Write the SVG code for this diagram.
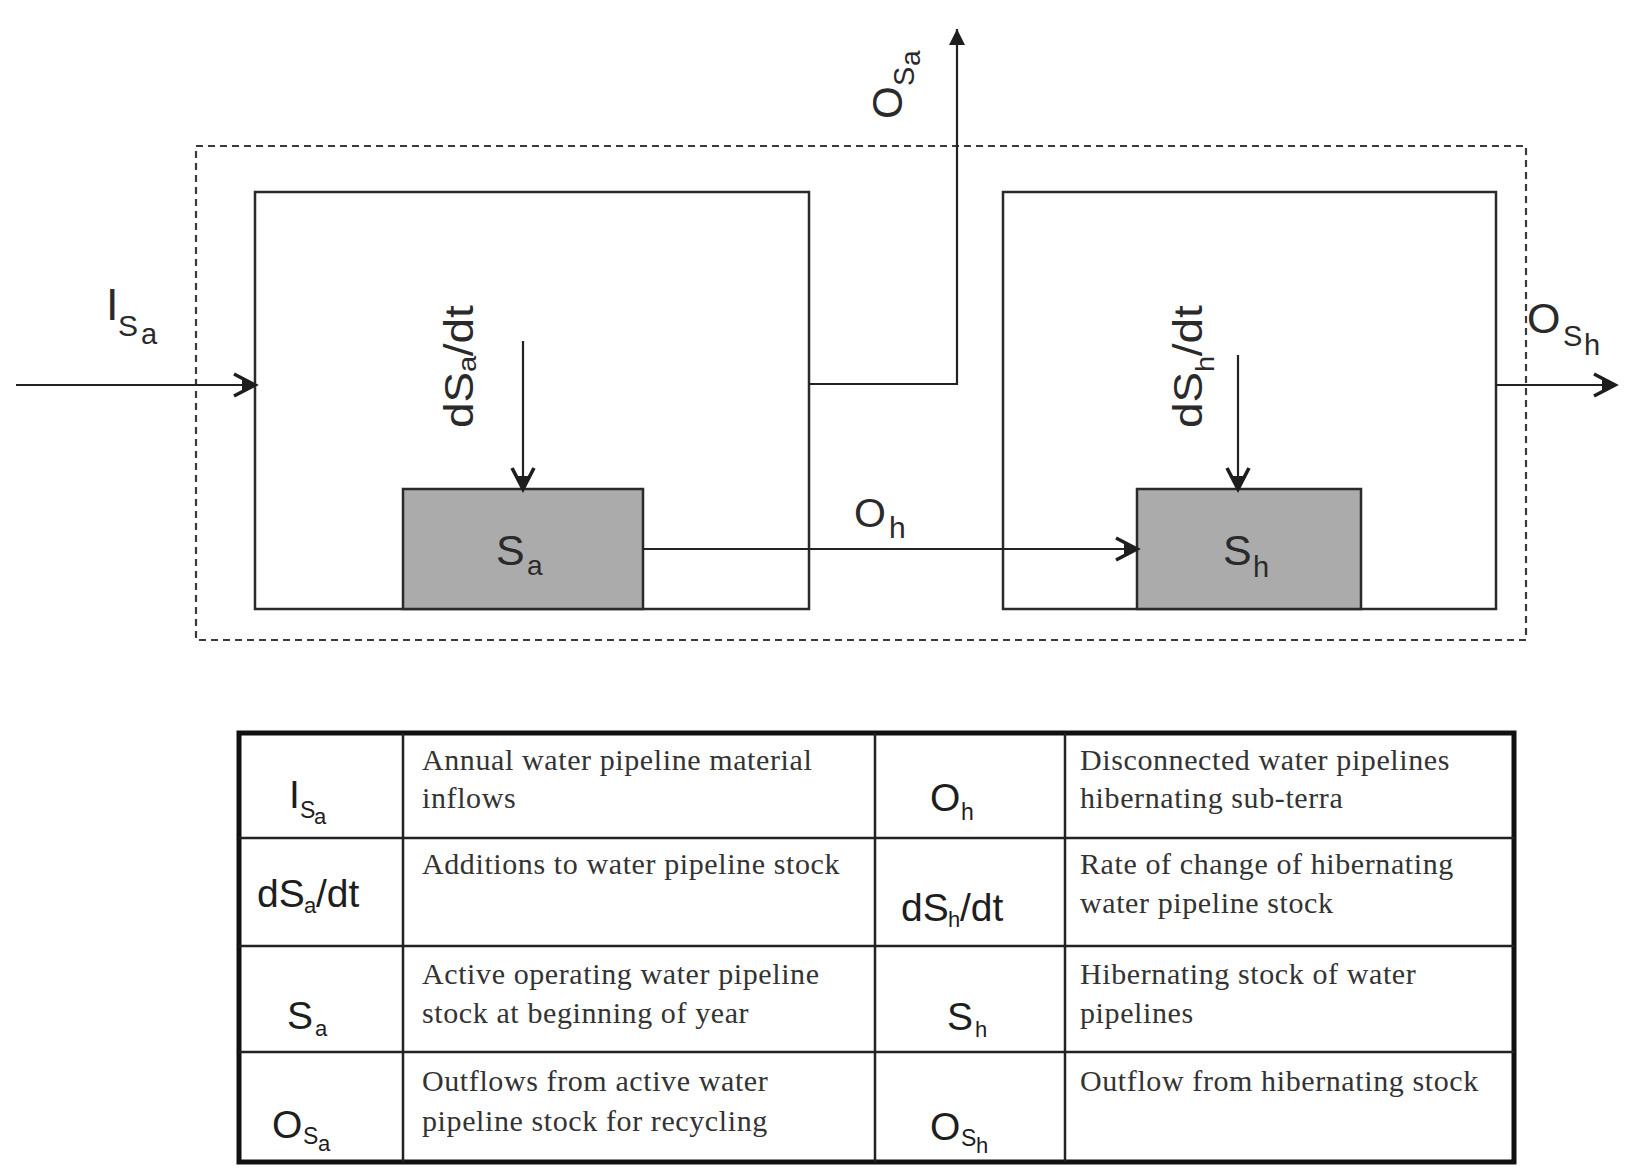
<svg xmlns="http://www.w3.org/2000/svg" width="1638" height="1169" viewBox="0 0 1638 1169">
<style>
.bg{fill:#ffffff}
.box{fill:#ffffff;stroke:#2a2a2a;stroke-width:2.5}
.stock{fill:#ababab;stroke:#2a2a2a;stroke-width:2.5}
.dash{fill:none;stroke:#3a3a3a;stroke-width:2.2;stroke-dasharray:7 5}
.conn{fill:none;stroke:#222;stroke-width:2.2}
.lbl{font-family:"Liberation Sans",Arial,sans-serif;fill:#2a2a2a}
.ser{font-family:"Liberation Serif","Times New Roman",serif;fill:#333;font-size:30px;letter-spacing:0.6px}
.sym{font-family:"Liberation Sans",Arial,sans-serif;fill:#1e1e1e}
.tout{fill:none;stroke:#111;stroke-width:5}
.tin{fill:none;stroke:#222;stroke-width:2.5}
</style>
<defs>
<marker id="chev" markerUnits="userSpaceOnUse" viewBox="-28 -16 32 32" markerWidth="32" markerHeight="32" refX="0" refY="0" orient="auto">
<path d="M-21,-11 L0,0 L-21,11" fill="none" stroke="#1e1e1e" stroke-width="3.6"/>
<path d="M-13,-6 L0,0 L-13,6 Z" fill="#1e1e1e"/>
</marker>
<marker id="tri" markerUnits="userSpaceOnUse" viewBox="-20 -10 22 20" markerWidth="22" markerHeight="20" refX="0" refY="0" orient="auto">
<path d="M-16,-8 L0,0 L-16,8 Z" fill="#1e1e1e"/>
</marker>
</defs>
<rect class="bg" x="0" y="0" width="1638" height="1169"/>

<g id="system-boundary">
<rect class="dash" x="196" y="146" width="1330" height="494"/>
</g>

<g id="active-box">
<rect class="box" x="255" y="192" width="554" height="417"/>
</g>
<g id="hibernating-box">
<rect class="box" x="1003" y="192" width="493" height="417"/>
</g>
<g id="node-Sa">
<rect class="stock" x="403" y="489" width="240" height="120"/>
<text class="lbl" font-size="43" x="496" y="565">S</text>
<text class="lbl" font-size="28" x="527" y="575">a</text>
</g>
<g id="node-Sh">
<rect class="stock" x="1137" y="489" width="224" height="120"/>
<text class="lbl" font-size="43" x="1223" y="565">S</text>
<text class="lbl" font-size="29" x="1253" y="577">h</text>
</g>

<g id="connectors">
<line class="conn" x1="16" y1="385" x2="255" y2="385" marker-end="url(#chev)"/>
<polyline class="conn" points="809,384 957,384 957,29" marker-end="url(#tri)"/>
<line class="conn" x1="1496" y1="385" x2="1615" y2="385" marker-end="url(#chev)"/>
<line class="conn" x1="523" y1="341" x2="523" y2="489" marker-end="url(#chev)"/>
<line class="conn" x1="1238" y1="355" x2="1238" y2="489" marker-end="url(#chev)"/>
<line class="conn" x1="643" y1="549" x2="1137" y2="549" marker-end="url(#chev)"/>
</g>

<g id="label-ISa">
<text class="lbl" font-size="45" x="106" y="320">I</text>
<text class="lbl" font-size="30" x="118" y="336">S</text>
<text class="lbl" font-size="29" x="141" y="344">a</text>
</g>
<g id="label-OSa" transform="translate(902,119) rotate(-90)">
<text class="lbl" font-size="42" x="0" y="0">O</text>
<text class="lbl" font-size="29" x="33" y="12">S</text>
<text class="lbl" font-size="28" x="53" y="18">a</text>
</g>
<g id="label-OSh">
<text class="lbl" font-size="43" x="1527" y="333">O</text>
<text class="lbl" font-size="29" x="1563" y="346">S</text>
<text class="lbl" font-size="29" x="1584" y="355">h</text>
</g>
<g id="label-Oh">
<text class="lbl" font-size="41" x="854" y="527">O</text>
<text class="lbl" font-size="30" x="889" y="538">h</text>
</g>
<g id="label-dSa" transform="translate(473,428) rotate(-90) scale(1.12,1)">
<text class="lbl" font-size="41" x="0" y="0">dS</text>
<text class="lbl" font-size="26" x="50" y="3">a</text>
<text class="lbl" font-size="41" x="64" y="0">/dt</text>
</g>
<g id="label-dSh" transform="translate(1202,428) rotate(-90) scale(1.12,1)">
<text class="lbl" font-size="41" x="0" y="0">dS</text>
<text class="lbl" font-size="26" x="50" y="12">h</text>
<text class="lbl" font-size="41" x="64" y="0">/dt</text>
</g>

<g id="legend-table">
<rect class="tout" x="239" y="733" width="1275" height="429"/>
<line class="tin" x1="403" y1="733" x2="403" y2="1162"/>
<line class="tin" x1="875" y1="733" x2="875" y2="1162"/>
<line class="tin" x1="1065" y1="733" x2="1065" y2="1162"/>
<line class="tin" x1="239" y1="838" x2="1514" y2="838"/>
<line class="tin" x1="239" y1="946" x2="1514" y2="946"/>
<line class="tin" x1="239" y1="1052" x2="1514" y2="1052"/>

<g id="row1-left">
<text class="sym" font-size="39" x="289" y="808">I</text>
<text class="sym" font-size="23" x="300" y="818">S</text>
<text class="sym" font-size="22" x="314" y="824">a</text>
<text class="ser" x="422" y="770">Annual water pipeline  material</text>
<text class="ser" x="422" y="808">inflows</text>
</g>
<g id="row1-right">
<text class="sym" font-size="39" x="930" y="811">O</text>
<text class="sym" font-size="23" x="961" y="820">h</text>
<text class="ser" x="1080" y="770">Disconnected water pipelines</text>
<text class="ser" x="1080" y="808">hibernating sub-terra</text>
</g>
<g id="row2-left">
<text class="sym" font-size="39" x="257" y="907">dS</text>
<text class="sym" font-size="22" x="304" y="913">a</text>
<text class="sym" font-size="39" x="316" y="907">/dt</text>
<text class="ser" x="422" y="874">Additions to water pipeline  stock</text>
</g>
<g id="row2-right">
<text class="sym" font-size="39" x="901" y="921">dS</text>
<text class="sym" font-size="22" x="948" y="927">h</text>
<text class="sym" font-size="39" x="960" y="921">/dt</text>
<text class="ser" x="1080" y="874">Rate of change of hibernating</text>
<text class="ser" x="1080" y="913">water pipeline  stock</text>
</g>
<g id="row3-left">
<text class="sym" font-size="39" x="287" y="1029">S</text>
<text class="sym" font-size="22" x="315" y="1036">a</text>
<text class="ser" x="422" y="984">Active operating water pipeline</text>
<text class="ser" x="422" y="1023">stock at beginning  of year</text>
</g>
<g id="row3-right">
<text class="sym" font-size="39" x="947" y="1030">S</text>
<text class="sym" font-size="22" x="975" y="1037">h</text>
<text class="ser" x="1080" y="984">Hibernating stock of water</text>
<text class="ser" x="1080" y="1023">pipelines</text>
</g>
<g id="row4-left">
<text class="sym" font-size="39" x="272" y="1138">O</text>
<text class="sym" font-size="23" x="303" y="1144">S</text>
<text class="sym" font-size="22" x="318" y="1151">a</text>
<text class="ser" x="422" y="1091">Outflows from active water</text>
<text class="ser" x="422" y="1131">pipeline  stock for recycling</text>
</g>
<g id="row4-right">
<text class="sym" font-size="39" x="930" y="1140">O</text>
<text class="sym" font-size="23" x="961" y="1146">S</text>
<text class="sym" font-size="22" x="976" y="1153">h</text>
<text class="ser" x="1080" y="1091">Outflow from hibernating  stock</text>
</g>
</g>
</svg>
